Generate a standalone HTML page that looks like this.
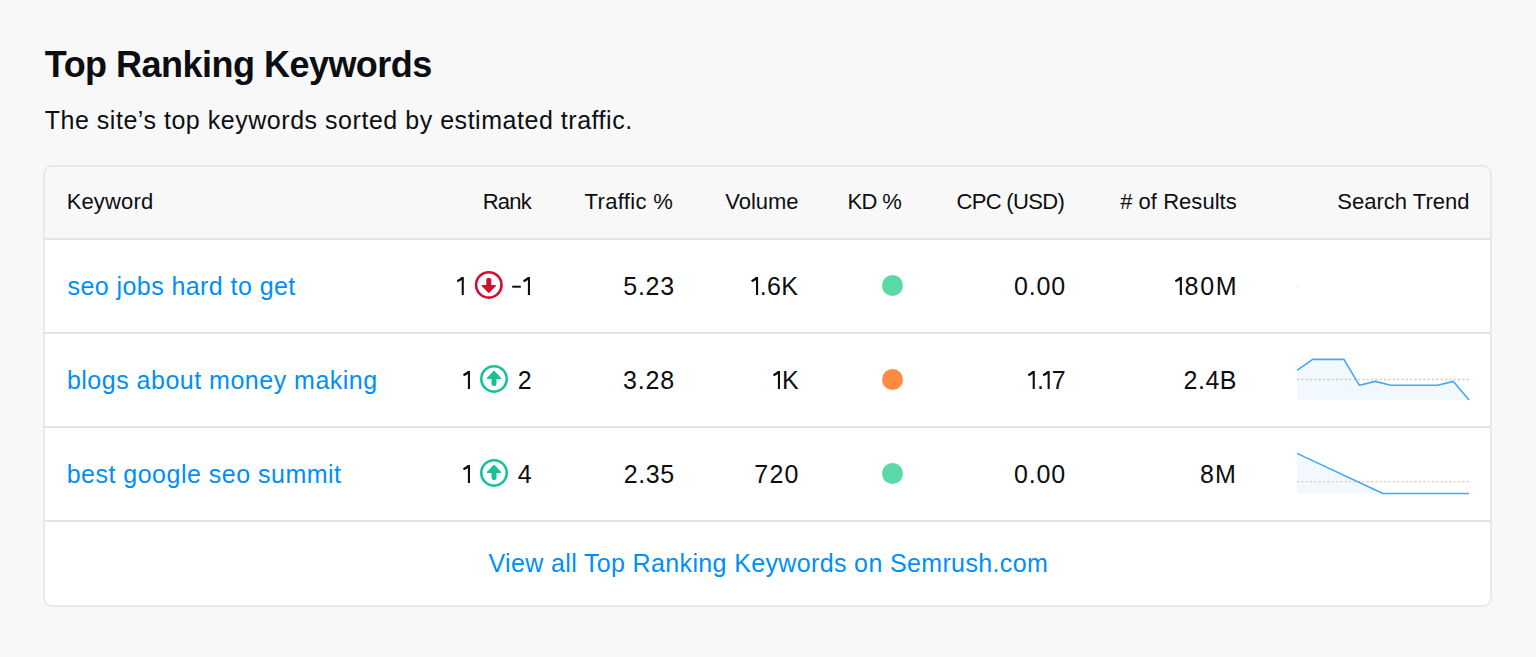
<!DOCTYPE html>
<html>
<head>
<meta charset="utf-8">
<style>
html,body{margin:0;padding:0;}
body{width:1536px;height:657px;background:#f8f8f8;position:relative;overflow:hidden;font-family:"Liberation Sans",sans-serif;color:#0d0e12;}
.a{position:absolute;white-space:nowrap;line-height:1;}
.card{position:absolute;left:43px;top:165px;width:1445px;height:438px;border:2px solid #e8e8ee;border-radius:9px;background:#fff;}
.hd{position:absolute;left:45px;top:167px;width:1445px;height:71px;background:#f8f8f8;border-radius:7px 7px 0 0;border-bottom:2px solid #e2e2e9;}
.ln{position:absolute;left:45px;width:1445px;height:2px;background:#e2e2e9;}
.ov{position:absolute;left:0;top:0;}
.dot{position:absolute;width:21px;height:21px;border-radius:50%;}
</style>
</head>
<body>
<div class="a" style="left:44.84px;top:47px;font-size:36px;font-weight:700;letter-spacing:-0.52px;">Top Ranking Keywords</div>
<div class="a" style="left:44.66px;top:108px;font-size:25px;letter-spacing:0.53px;">The site’s top keywords sorted by estimated traffic.</div>
<div class="card"></div>
<div class="hd"></div>
<div class="ln" style="top:332px"></div>
<div class="ln" style="top:426px"></div>
<div class="ln" style="top:520px"></div>
<div class="a" style="left:66.67px;top:191px;font-size:22px;letter-spacing:0.15px;">Keyword</div>
<div class="a" style="left:482.69px;top:191px;font-size:22px;letter-spacing:-0.79px;">Rank</div>
<div class="a" style="left:584.6px;top:191px;font-size:22px;letter-spacing:0.32px;">Traffic %</div>
<div class="a" style="left:725.35px;top:191px;font-size:22px;letter-spacing:-0.04px;">Volume</div>
<div class="a" style="left:847.62px;top:191px;font-size:22px;letter-spacing:-0.67px;">KD %</div>
<div class="a" style="left:956.46px;top:191px;font-size:22px;letter-spacing:-0.67px;">CPC (USD)</div>
<div class="a" style="left:1120.17px;top:191px;font-size:22px;letter-spacing:0.04px;"># of Results</div>
<div class="a" style="left:1337.24px;top:191px;font-size:22px;letter-spacing:0.02px;">Search Trend</div>
<div class="a" style="left:67.5px;top:274px;font-size:25px;letter-spacing:0.43px;color:#008ff8;">seo jobs hard to get</div>
<div class="a" style="left:623.22px;top:274px;font-size:25px;letter-spacing:0.76px;">5.23</div>
<div class="a" style="left:1014.06px;top:274px;font-size:25px;letter-spacing:0.84px;">0.00</div>
<div class="dot" style="left:882px;top:274.5px;background:#5ad8a6"></div>
<div class="a" style="left:66.89px;top:368px;font-size:25px;letter-spacing:0.5px;color:#008ff8;">blogs about money making</div>
<div class="a" style="left:623.09px;top:368px;font-size:25px;letter-spacing:0.81px;">3.28</div>
<div class="a" style="left:1183.48px;top:368px;font-size:25px;letter-spacing:0.53px;">2.4B</div>
<div class="a" style="left:517.64px;top:368px;font-size:25px;">2</div>
<div class="dot" style="left:882px;top:368.5px;background:#ff8b41"></div>
<div class="a" style="left:66.69px;top:462px;font-size:25px;letter-spacing:0.49px;color:#008ff8;">best google seo summit</div>
<div class="a" style="left:623.73px;top:462px;font-size:25px;letter-spacing:0.62px;">2.35</div>
<div class="a" style="left:754.24px;top:462px;font-size:25px;letter-spacing:1.27px;">720</div>
<div class="a" style="left:1014.06px;top:462px;font-size:25px;letter-spacing:0.84px;">0.00</div>
<div class="a" style="left:517.7px;top:462px;font-size:25px;">4</div>
<div class="dot" style="left:882px;top:462.5px;background:#5ad8a6"></div>
<div class="a" style="left:488.51px;top:551px;font-size:25px;letter-spacing:0.36px;color:#008ff8;">View all Top Ranking Keywords on Semrush.com</div>
<div class="a" style="left:759.74px;top:274px;font-size:25px;letter-spacing:0.34px;">.6K</div>
<div class="a" style="left:781.95px;top:368px;font-size:25px;">K</div>
<div class="a" style="left:1036.97px;top:368px;font-size:25px;">.</div>
<div class="a" style="left:1051.63px;top:368px;font-size:25px;">7</div>
<div class="a" style="left:1199.95px;top:462px;font-size:25px;">8</div>
<div class="a" style="left:1184.54px;top:274px;font-size:25px;letter-spacing:1.76px;">80M</div>
<div class="a" style="left:1215.06px;top:462px;font-size:25px;">M</div>
<svg class="ov" width="1536" height="657" viewBox="0 0 1536 657"><circle cx="488.8" cy="284.9" r="12.7" fill="none" stroke="#d10f30" stroke-width="2.6"/><path d="M482.40000000000003,285.65 L488.8,292.2 L495.2,285.65 Z" fill="#d10f30" stroke="#d10f30" stroke-width="1.5" stroke-linejoin="round"/><line x1="488.8" y1="286.9" x2="488.8" y2="280.2" stroke="#d10f30" stroke-width="5" stroke-linecap="round"/><circle cx="494" cy="378.9" r="12.7" fill="none" stroke="#17c199" stroke-width="2.6"/><path d="M487.6,378.15 L494,371.59999999999997 L500.4,378.15 Z" fill="#17c199" stroke="#17c199" stroke-width="1.5" stroke-linejoin="round"/><line x1="494" y1="376.9" x2="494" y2="383.59999999999997" stroke="#17c199" stroke-width="5" stroke-linecap="round"/><circle cx="494" cy="472.9" r="12.7" fill="none" stroke="#17c199" stroke-width="2.6"/><path d="M487.6,472.15 L494,465.59999999999997 L500.4,472.15 Z" fill="#17c199" stroke="#17c199" stroke-width="1.5" stroke-linejoin="round"/><line x1="494" y1="470.9" x2="494" y2="477.59999999999997" stroke="#17c199" stroke-width="5" stroke-linecap="round"/><polygon points="1297.0,370.3 1312.6,359.4 1328.3,359.4 1343.9,359.4 1359.5,385.3 1375.2,381.4 1390.8,385.3 1406.5,385.3 1422.1,385.3 1437.7,385.3 1453.4,381.4 1469.0,400.0 1469.0,400 1297.0,400" fill="#f2f9fe"/><line x1="1297.0" y1="379.5" x2="1469.0" y2="379.5" stroke="#dac8b6" stroke-width="1.3" stroke-dasharray="2.1 2.25"/><polyline points="1297.0,370.3 1312.6,359.4 1328.3,359.4 1343.9,359.4 1359.5,385.3 1375.2,381.4 1390.8,385.3 1406.5,385.3 1422.1,385.3 1437.7,385.3 1453.4,381.4 1469.0,400.0" fill="none" stroke="#42a9f4" stroke-width="1.6" stroke-linejoin="round"/><polygon points="1297.0,453.4 1382.9,493.5 1469.0,493.5 1469.0,493.5 1297.0,493.5" fill="#f2f9fe"/><line x1="1297.0" y1="481.6" x2="1469.0" y2="481.6" stroke="#dac8b6" stroke-width="1.3" stroke-dasharray="2.1 2.25"/><polyline points="1297.0,453.4 1382.9,493.5 1469.0,493.5" fill="none" stroke="#42a9f4" stroke-width="1.6" stroke-linejoin="round"/><rect x="1296.3" y="284.8" width="2" height="2" fill="#e6f3fe"/><path transform="translate(456.7,277)" d="M7.1,0 V18.1 H5.0 V2.9 C3.9,3.8 2.5,4.6 1.0,5.2 L0.1,3.3 C1.9,2.5 3.5,1.4 4.9,0 Z" fill="#0d0e12"/><path transform="translate(462.9,371)" d="M7.1,0 V18.1 H5.0 V2.9 C3.9,3.8 2.5,4.6 1.0,5.2 L0.1,3.3 C1.9,2.5 3.5,1.4 4.9,0 Z" fill="#0d0e12"/><path transform="translate(462.9,465)" d="M7.1,0 V18.1 H5.0 V2.9 C3.9,3.8 2.5,4.6 1.0,5.2 L0.1,3.3 C1.9,2.5 3.5,1.4 4.9,0 Z" fill="#0d0e12"/><path transform="translate(522.9,277)" d="M7.1,0 V18.1 H5.0 V2.9 C3.9,3.8 2.5,4.6 1.0,5.2 L0.1,3.3 C1.9,2.5 3.5,1.4 4.9,0 Z" fill="#0d0e12"/><path transform="translate(751,277)" d="M7.1,0 V18.1 H5.0 V2.9 C3.9,3.8 2.5,4.6 1.0,5.2 L0.1,3.3 C1.9,2.5 3.5,1.4 4.9,0 Z" fill="#0d0e12"/><path transform="translate(772.9,371)" d="M7.1,0 V18.1 H5.0 V2.9 C3.9,3.8 2.5,4.6 1.0,5.2 L0.1,3.3 C1.9,2.5 3.5,1.4 4.9,0 Z" fill="#0d0e12"/><path transform="translate(1027.7,371)" d="M7.1,0 V18.1 H5.0 V2.9 C3.9,3.8 2.5,4.6 1.0,5.2 L0.1,3.3 C1.9,2.5 3.5,1.4 4.9,0 Z" fill="#0d0e12"/><path transform="translate(1042.6,371)" d="M7.1,0 V18.1 H5.0 V2.9 C3.9,3.8 2.5,4.6 1.0,5.2 L0.1,3.3 C1.9,2.5 3.5,1.4 4.9,0 Z" fill="#0d0e12"/><path transform="translate(1174.8,277)" d="M7.1,0 V18.1 H5.0 V2.9 C3.9,3.8 2.5,4.6 1.0,5.2 L0.1,3.3 C1.9,2.5 3.5,1.4 4.9,0 Z" fill="#0d0e12"/><rect x="512.2" y="285.7" width="8.6" height="2" fill="#0d0e12"/></svg></body>
</html>
